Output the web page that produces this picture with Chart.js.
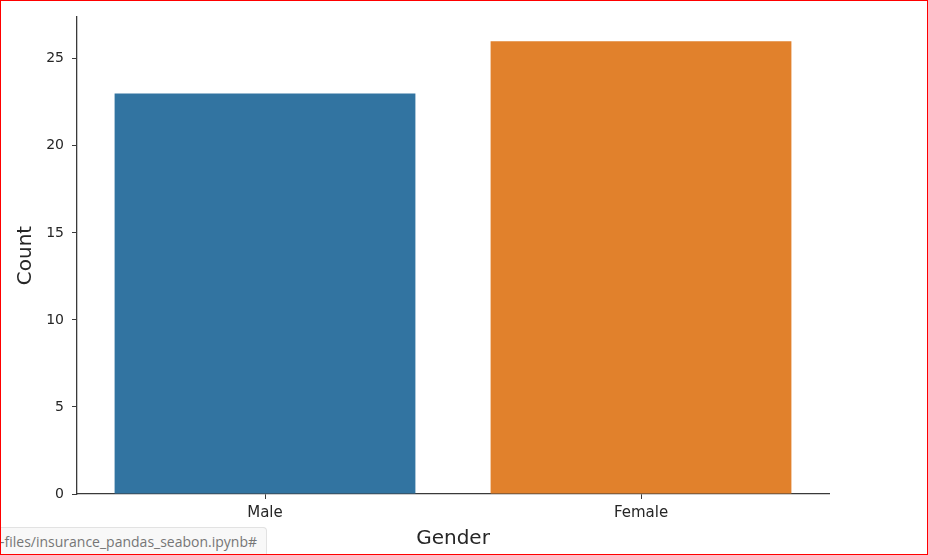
<!DOCTYPE html>
<html lang="en">
<head>
    <meta charset="UTF-8">
    <title>Count by Gender</title>
    <script src="https://cdn.jsdelivr.net/npm/chart.js"></script>
    <style>
        html, body {
            margin: 0;
            padding: 0;
            background: #ffffff;
        }
        .frame {
            position: relative;
            width: 928px;
            height: 555px;
            overflow: hidden;
        }
        #genderChart {
            position: absolute;
            left: 0;
            top: 0;
        }
        .border {
            position: absolute;
            left: 0;
            top: 0;
            width: 926px;
            height: 553px;
            border: 1px solid #ff0000;
            pointer-events: none;
        }
        .status {
            position: absolute;
            left: 0;
            top: 527px;
            width: 266px;
            height: 27px;
            background: #f8f8f8;
            border-top: 1px solid #e2e2e2;
            border-right: 1px solid #e2e2e2;
            border-top-right-radius: 4px;
            font-family: "Open Sans", "Noto Sans", sans-serif;
            font-size: 14px;
            line-height: 27px;
            color: #767676;
            white-space: nowrap;
        }
    </style>
</head>
<body>
    <div class="frame">
        <canvas id="genderChart" width="928" height="555"></canvas>
        <div class="status">-files/insurance_pandas_seabon.ipynb#</div>
        <div class="border"></div>
    </div>

    <script>
        const categories = ['Male', 'Female'];
        const counts = [23, 26];
        const barColors = ['#3274a1', '#e1812c'];
        const yTicks = [0, 5, 10, 15, 20, 25];
        const yMax = 27.4;

        const textColor = '#262626';
        const spineColor = '#3a3a3a';

        const ctx = document.getElementById('genderChart').getContext('2d');

        const chart = new Chart(ctx, {
            type: 'bar',
            data: {
                labels: categories,
                datasets: [{
                    label: 'Count',
                    data: counts,
                    backgroundColor: barColors,
                    borderWidth: 0,
                    barPercentage: 0.8,
                    categoryPercentage: 1.0
                }]
            },
            options: {
                responsive: false,
                animation: false,
                devicePixelRatio: 1,
                layout: {
                    padding: { left: 0, right: 99, top: 17, bottom: 0 }
                },
                plugins: {
                    legend: { display: false },
                    tooltip: { enabled: false }
                },
                scales: {
                    x: {
                        offset: true,
                        grid: {
                            offset: false,
                            drawOnChartArea: false,
                            drawTicks: true,
                            tickLength: 5,
                            color: spineColor,
                            lineWidth: 1
                        },
                        border: { display: true, color: spineColor, width: 1.3 },
                        ticks: {
                            color: textColor,
                            padding: 5,
                            font: { family: 'DejaVu Sans', size: 15 }
                        },
                        title: {
                            display: true,
                            text: 'Gender',
                            color: textColor,
                            padding: { top: 4, bottom: 4 },
                            font: { family: 'DejaVu Sans', size: 20 }
                        },
                        afterFit: function(scale) {
                            scale.height = 61;
                        }
                    },
                    y: {
                        min: 0,
                        max: yMax,
                        grid: {
                            drawOnChartArea: false,
                            drawTicks: true,
                            tickLength: 5,
                            color: spineColor,
                            lineWidth: 1
                        },
                        border: { display: true, color: spineColor, width: 1.3 },
                        afterBuildTicks: function(scale) {
                            scale.ticks = yTicks.map(v => ({ value: v }));
                        },
                        ticks: {
                            color: textColor,
                            padding: 8,
                            font: { family: 'DejaVu Sans', size: 14 }
                        },
                        title: {
                            display: true,
                            text: 'Count',
                            color: textColor,
                            padding: { top: 14, bottom: 4 },
                            font: { family: 'DejaVu Sans', size: 20 }
                        },
                        afterFit: function(scale) {
                            scale.width = 77;
                        }
                    }
                }
            }
        });
    </script>
</body>
</html>
